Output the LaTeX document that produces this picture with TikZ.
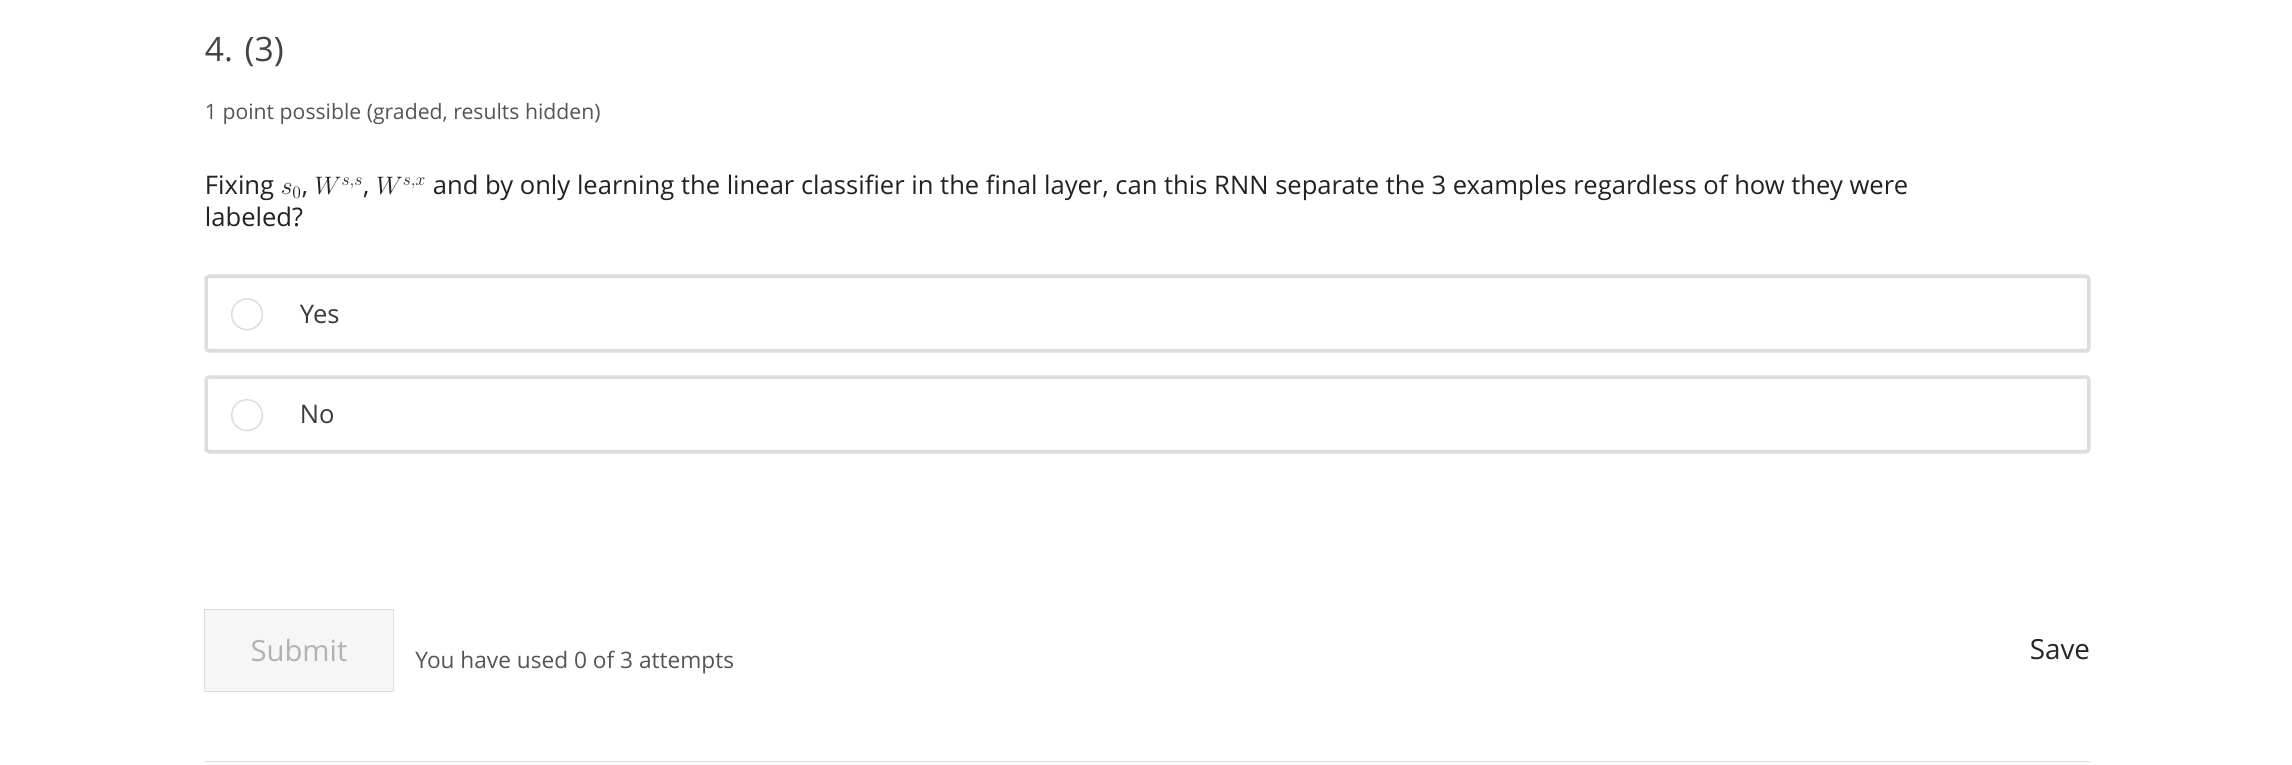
\documentclass[tikz,border=0pt]{standalone}
\usepackage{fontspec}
\setmainfont{Open Sans}
\definecolor{txt}{HTML}{222222}
\definecolor{sub}{HTML}{555555}
\definecolor{bord}{HTML}{DDDDDD}
\tikzset{
  txtnode/.style={anchor=base west, inner sep=0pt, text=txt},
  optbox/.style={draw=bord, line width=2.5pt, rounded corners=2pt},
  radio/.style={circle, draw=bord, line width=1pt, minimum size=21pt, inner sep=0pt},
}
\begin{document}
\begin{tikzpicture}[x=1pt,y=-1pt]
\useasboundingbox[fill=white] (0,0) rectangle (1568,523);
\node[txtnode, font=\fontsize{23}{28}\selectfont, text=sub!80!black] (title) at (140,42) {4. (3)};
\node[txtnode, font=\fontsize{14.5}{18}\selectfont, text=sub] (pts) at (140,82) {1 point possible (graded, results hidden)};
\node[txtnode, font=\fontsize{17.5}{22}\selectfont] (q1) at (140,133) {Fixing $s_0$, $W^{s,s}$, $W^{s,x}$ and by only learning the linear classifier in the final layer, can this RNN separate the 3 examples regardless of how they were};
\node[txtnode, font=\fontsize{17.5}{22}\selectfont] (q2) at (140,155) {labeled?};
\draw[optbox] (141,189) rectangle (1429,240);
\node[radio] (r1) at (169,215) {};
\node[txtnode, font=\fontsize{17.5}{22}\selectfont, text=sub!70!black] (yes) at (205,221) {Yes};
\draw[optbox] (141,258) rectangle (1429,309);
\node[radio] (r2) at (169,284) {};
\node[txtnode, font=\fontsize{17.5}{22}\selectfont, text=sub!70!black] (no) at (205,290) {No};
\node[draw=bord, fill=gray!7, minimum width=129pt, minimum height=56pt, inner sep=0pt, text=gray!60, font=\fontsize{20}{24}\selectfont] (submit) at (204.5,445) {Submit};
\node[txtnode, font=\fontsize{15.5}{20}\selectfont, text=sub] (att) at (284,457) {You have used 0 of 3 attempts};
\node[anchor=base east, inner sep=0pt, font=\fontsize{19}{24}\selectfont, text=black!85] (save) at (1430,451) {Save};
\draw[bord, line width=1.2pt] (140,521) -- (1430,521);
\end{tikzpicture}
\end{document}
